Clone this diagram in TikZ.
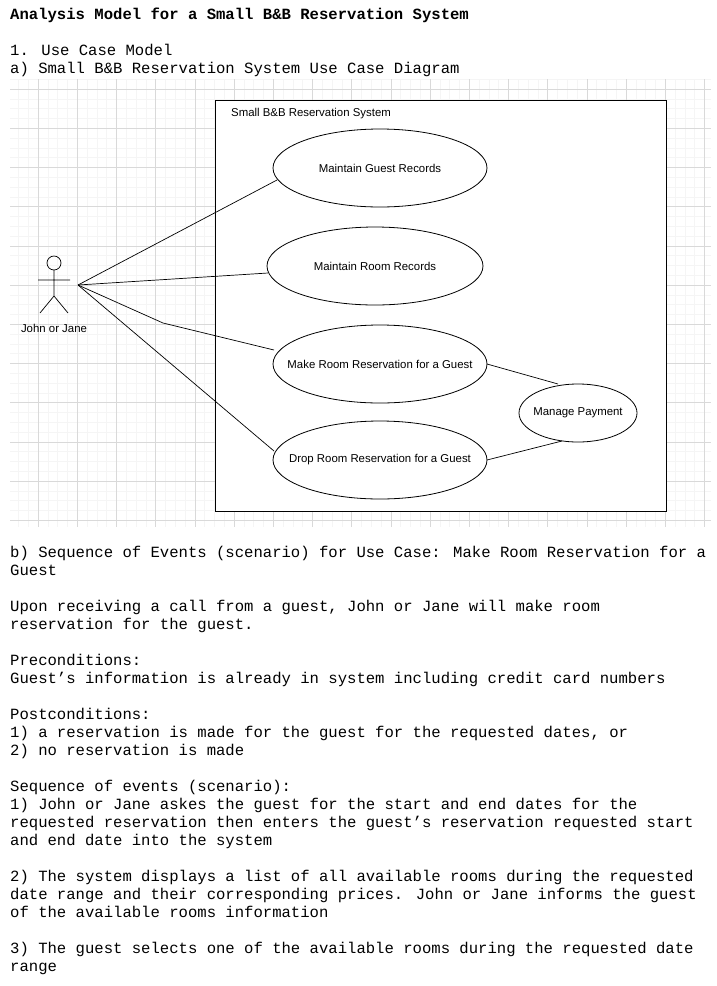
\documentclass[tikz,border=0pt]{standalone}
\usepackage{fontspec}
\usetikzlibrary{shapes.geometric}
\setmainfont{Liberation Sans}
\newfontfamily\mono{Liberation Mono}
\begin{document}
\begin{tikzpicture}[x=1pt,y=-1pt,
  uc/.style={inner sep=0pt,font=\fontsize{11.4}{13}\selectfont},
  el/.style={line width=0.8pt},
  ln/.style={line width=0.7pt},
  txt/.style={anchor=north west,inner sep=0pt,font=\mono\fontsize{15.6}{18}\selectfont,align=left}]
\useasboundingbox (0,0) rectangle (717,986);
\fill[white] (0,0) rectangle (717,986);
% grid
\begin{scope}
\clip (10,79) rectangle (711,527);
\foreach \i in {-10,...,80} {
  \draw[black!4,line width=0.5pt] ({38+\i*9.8},79) -- ({38+\i*9.8},527);
  \draw[black!4,line width=0.5pt] (10,{89+\i*9.8}) -- (711,{89+\i*9.8});}
\foreach \i in {-2,...,20} {
  \draw[black!15,line width=0.6pt] ({38+\i*39.2},79) -- ({38+\i*39.2},527);
  \draw[black!15,line width=0.6pt] (10,{89+\i*39.2}) -- (711,{89+\i*39.2});}
\end{scope}
\node[txt] (title) at (10,8) {\bfseries Analysis Model for a Small B\&B Reservation System};
\node[txt] (h1) at (10,44) {1. Use Case Model\\a) Small B\&B Reservation System Use Case Diagram};
% system
\draw[fill=white,line width=0.8pt] (215,100) rectangle (666,511);
\node[anchor=west,uc] (sys) at (231,114) {Small B\&B Reservation System};
\draw[el] (380,168) ellipse (107 and 39);
\draw[el] (375,266) ellipse (108 and 39);
\draw[el] (380,364) ellipse (107 and 39);
\draw[el] (380,460) ellipse (107 and 39);
\draw[el] (578,413) ellipse (59 and 29);
\node[uc] (g) at (380,168) {Maintain Guest Records};
\node[uc] (r) at (375,266) {Maintain Room Records};
\node[uc] (m) at (380,364) {Make Room Reservation for a Guest};
\node[uc] (d) at (380,460) {Drop Room Reservation for a Guest};
\node[uc] (p) at (578,413) {Manage Payment};
% actor
\draw[ln] (54,263) circle (7);
\draw[ln] (54,270) -- (54,296) (38,280) -- (70,280) (40,313) -- (54,296) -- (68,313);
\node[uc] (act) at (54,328) {John or Jane};
\coordinate (a) at (78,285);
\coordinate (bend) at (163,323);
\draw[ln] (a) -- (277,180);
\draw[ln] (a) -- (268,273);
\draw[ln] (a) -- (bend) -- (274,350);
\draw[ln] (a) -- (274,451);
\draw[ln] (487,364) -- (558,384);
\draw[ln] (487,460) -- (562,441);
\node[txt] (b) at (10,546) {b) Sequence of Events (scenario) for Use Case: Make Room Reservation for a\\Guest\\[18pt]
Upon receiving a call from a guest, John or Jane will make room\\reservation for the guest.\\[18pt]
Preconditions:\\Guest’s information is already in system including credit card numbers\\[18pt]
Postconditions:\\1) a reservation is made for the guest for the requested dates, or\\2) no reservation is made\\[18pt]
Sequence of events (scenario):\\1) John or Jane askes the guest for the start and end dates for the\\requested reservation then enters the guest’s reservation requested start\\and end date into the system\\[18pt]
2) The system displays a list of all available rooms during the requested\\date range and their corresponding prices. John or Jane informs the guest\\of the available rooms information\\[18pt]
3) The guest selects one of the available rooms during the requested date\\range};
\end{tikzpicture}
\end{document}
